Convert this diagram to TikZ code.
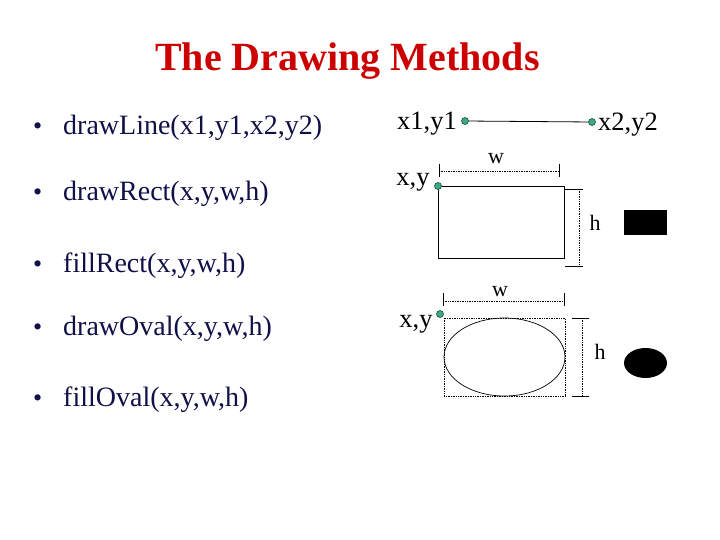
\documentclass[tikz,border=0pt]{standalone}
\usepackage{fontspec}
\setmainfont{Liberation Serif}
\usepackage{tikz}
\usetikzlibrary{shapes.geometric}
\definecolor{titlered}{RGB}{204,0,0}
\definecolor{navy}{RGB}{16,16,72}
\definecolor{ptfill}{RGB}{60,170,130}
\definecolor{ptedge}{RGB}{20,80,60}

\begin{document}
\begin{tikzpicture}[x=1pt,y=1pt,
  item/.style={anchor=base west, text=navy, font=\fontsize{28}{30}\selectfont},
  lbl/.style={font=\fontsize{26.5}{28}\selectfont},
  dimlbl/.style={font=\fontsize{22}{24}\selectfont},
  pt/.style={circle, draw=ptedge, fill=ptfill, minimum size=7pt, line width=0.6pt},
  dimline/.style={densely dotted, line width=0.7pt}]
\tikzstyle{every node}+=[inner sep=0pt]
\useasboundingbox (0,0) rectangle (720,-540);
\node [text=titlered, font=\bfseries\fontsize{40}{44}\selectfont] (title) at (347.5,-61) {The Drawing Methods};
\newcommand{\bull}{\makebox[30pt][l]{\fontsize{26}{26}\selectfont\raisebox{0pt}{\textbullet}}}
\node [item] (line) at (33,-135) {\bull drawLine(x1,y1,x2,y2)};
\node [item] (rect) at (33,-201) {\bull drawRect(x,y,w,h)};
\node [item] (frect) at (33,-272) {\bull fillRect(x,y,w,h)};
\node [item] (oval) at (33,-335) {\bull drawOval(x,y,w,h)};
\node [item] (foval) at (33,-406) {\bull fillOval(x,y,w,h)};
% line
\node [lbl] (l1) at (427,-124) {x1,y1};
\node [lbl] (l2) at (628,-125) {x2,y2};
\node [pt] (p1) at (465,-121) {};
\node [pt] (p2) at (592,-122) {};
\draw [line width=0.8pt] (p1) -- (p2);
% rectangle
\node [draw, line width=0.8pt, minimum width=126pt, minimum height=72pt, anchor=north west] (box) at (438,-186) {};
\node [lbl] (rxy) at (413,-182) {x,y};
\node [pt] (rp) at (box.north west) {};
\coordinate (rwl) at (439,-171);
\coordinate (rwr) at (559,-171);
\draw [line width=0.7pt] (439,-164) -- (439,-177);
\draw [line width=0.7pt] (559,-164) -- (559,-177);
\draw [dimline] (rwl) -- (rwr);
\node [dimlbl] (rw) at (496,-159) {w};
\coordinate (rht) at (579,-189);
\coordinate (rhb) at (579,-266);
\draw [line width=0.7pt] (565,-189) -- (583,-189);
\draw [line width=0.7pt] (565,-266) -- (583,-266);
\draw [dimline] (rht) -- (rhb);
\node [dimlbl] (rh) at (595,-223) {h};
\node [fill=black, minimum width=43pt, minimum height=25pt] (fbox) at (645.5,-222.5) {};
% oval
\draw [dimline] (444,-318) rectangle (565,-396);
\node [draw, ellipse, line width=0.7pt, minimum width=121pt, minimum height=78pt] (ell) at (504.5,-357) {};
\node [lbl] (oxy) at (416,-324) {x,y};
\node [pt] (op) at (440,-314) {};
\coordinate (owl) at (443,-301);
\coordinate (owr) at (564,-301);
\draw [line width=0.7pt] (443,-293) -- (443,-306);
\draw [line width=0.7pt] (564,-293) -- (564,-306);
\draw [dimline] (owl) -- (owr);
\node [dimlbl] (ow) at (500,-292) {w};
\coordinate (oht) at (582,-318);
\coordinate (ohb) at (582,-396);
\draw [line width=0.7pt] (572,-318) -- (589,-318);
\draw [line width=0.7pt] (572,-396) -- (589,-396);
\draw [dimline] (oht) -- (ohb);
\node [dimlbl] (oh) at (600,-352) {h};
\node [fill=black, ellipse, minimum width=43pt, minimum height=30pt] (fell) at (645.5,-363) {};
\end{tikzpicture}
\end{document}
